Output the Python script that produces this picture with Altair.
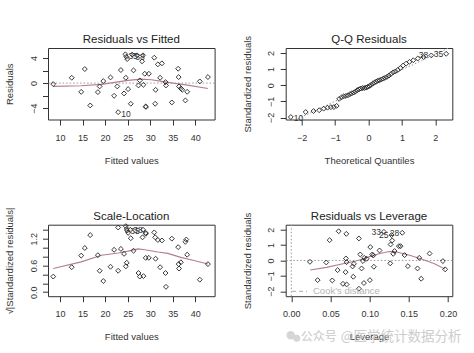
import altair as alt
import pandas as pd

# ---------------- data ----------------
# Panel 1: Residuals vs Fitted
rvf_fitted = [8.5, 12.6, 14.7, 15.5, 16.7, 18.4, 18.8, 19.6, 21.2, 22.0,
              22.9, 22.7, 23.5, 24.2, 24.6, 24.5, 24.7, 24.9, 25.1, 25.7,
              26.0, 26.3, 27.1, 27.4, 27.7, 28.2, 28.4, 28.5, 28.8, 29.0,
              29.05, 29.7, 30.9, 31.1, 31.2, 31.7, 32.2, 32.6, 33.4, 33.5,
              34.8, 36.2, 36.3, 36.4, 36.8, 37.1, 37.8, 38.2, 41.0, 42.8]
rvf_resid = [-0.16, 0.85, -1.40, 2.24, -3.57, -1.44, -0.53, 0.32, 0.90, -2.03,
             -4.64, -0.53, 2.08, -1.65, 0.85, 4.59, 4.21, 3.84, -0.96, -3.30,
             4.55, 2.03, 4.43, -0.37, 0.43, 3.47, 4.43, -0.27, 1.49, -3.73,
             -3.80, 1.49, 4.05, -3.30, -1.07, 2.99, 0.85, 3.15, 0.16, -0.37,
             -3.09, 2.29, 0.96, -0.53, -0.85, -1.07, -2.77, -1.39, 0.27, 0.96]
rvf_smooth_x = [8.5, 14.7, 19.2, 22.1, 25.1, 28.0, 30.3, 32.5, 35.4, 38.3, 42.8]
rvf_smooth_y = [-0.53, -0.43, -0.21, 0.11, 0.43, 0.64, 0.53, 0.27, -0.05, -0.32, -0.85]
rvf_lab_x = [22.9, 24.5, 26.0]
rvf_lab_y = [-4.64, 4.59, 4.55]
rvf_lab_t = ["10", "35", "38"]

# Panel 2: Q-Q Residuals
qq_theo = [-2.326, -1.881, -1.645, -1.476, -1.341, -1.227, -1.126, -1.036, -0.954, -0.878,
           -0.806, -0.739, -0.674, -0.613, -0.553, -0.496, -0.440, -0.385, -0.332, -0.279,
           -0.228, -0.176, -0.126, -0.075, -0.025, 0.025, 0.075, 0.126, 0.176, 0.228,
           0.279, 0.332, 0.385, 0.440, 0.496, 0.553, 0.613, 0.674, 0.739, 0.806,
           0.878, 0.954, 1.036, 1.126, 1.227, 1.341, 1.476, 1.645, 1.881, 2.326]
qq_sample = [-1.97, -1.66, -1.60, -1.55, -1.45, -1.39, -1.36, -1.35, -1.28, -0.85,
             -0.75, -0.68, -0.66, -0.62, -0.55, -0.50, -0.45, -0.38, -0.30, -0.25,
             -0.20, -0.18, -0.17, -0.15, -0.10, -0.05, 0.02, 0.10, 0.16, 0.22,
             0.28, 0.31, 0.36, 0.41, 0.46, 0.52, 0.60, 0.70, 0.80, 0.86,
             0.95, 1.07, 1.22, 1.34, 1.45, 1.55, 1.66, 1.75, 1.85, 1.95]
qq_ref_x = [-2.5, 2.5]
qq_ref_y = [-2.45, 2.41]
qq_lab_left_x = [-2.326]
qq_lab_left_y = [-1.97]
qq_lab_left_t = ["10"]
qq_lab_right_x = [1.881, 2.326]
qq_lab_right_y = [1.85, 1.95]
qq_lab_right_t = ["38", "35"]

# Panel 3: Scale-Location
sl_fitted = [8.5, 12.6, 14.7, 15.5, 16.7, 18.4, 18.8, 19.6, 21.2, 22.0,
             22.9, 22.9, 23.5, 24.2, 24.6, 24.8, 24.6, 24.8, 24.9, 25.1,
             25.6, 25.7, 26.3, 27.4, 27.7, 28.3, 28.4, 28.5, 29.0, 29.05,
             29.0, 29.7, 30.9, 31.1, 31.2, 31.7, 32.2, 32.6, 33.4, 33.5,
             34.8, 36.2, 36.3, 36.4, 36.8, 37.8, 38.0, 38.2, 41.0, 42.8]
sl_value = [0.35, 0.56, 0.82, 0.99, 1.28, 0.83, 0.48, 0.25, 0.57, 0.95,
            1.45, 0.48, 0.97, 0.86, 0.58, 0.66, 1.48, 1.42, 1.38, 1.33,
            1.40, 1.21, 0.93, 0.43, 0.35, 1.23, 1.40, 0.36, 1.33, 1.31,
            0.77, 0.77, 1.34, 1.23, 0.75, 1.17, 0.56, 1.16, 0.43, 0.12,
            1.20, 1.01, 0.63, 0.53, 0.67, 1.13, 1.18, 0.84, 0.28, 0.63]
sl_smooth_x = [8.5, 14.7, 19.2, 22.9, 25.1, 27.3, 28.8, 31.7, 33.9, 36.8, 39.7, 42.8]
sl_smooth_y = [0.53, 0.68, 0.83, 0.88, 0.92, 0.97, 0.95, 0.90, 0.87, 0.78, 0.71, 0.63]
sl_lab_x = [24.9, 25.6]
sl_lab_y = [1.38, 1.40]
sl_lab_t = ["35", "38"]

# Panel 4: Residuals vs Leverage
lev_h = [0.0238, 0.0336, 0.0446, 0.0489, 0.0523, 0.0591, 0.0604, 0.0659, 0.0693, 0.0702,
         0.0697, 0.0706, 0.0706, 0.0782, 0.0799, 0.0791, 0.0863, 0.0863, 0.0880, 0.0897,
         0.0914, 0.0927, 0.0931, 0.0961, 0.1003, 0.1008, 0.1033, 0.1046, 0.1054, 0.1126,
         0.1182, 0.1280, 0.1267, 0.1263, 0.1288, 0.1301, 0.1318, 0.1373, 0.1395, 0.1416,
         0.1446, 0.1488, 0.1611, 0.1633, 0.1658, 0.1765, 0.1935, 0.1964]
lev_s = [-0.09, -1.28, -0.13, 1.32, -1.30, -0.63, 1.90, -1.52, -0.76, 1.73,
         0.13, -0.11, -1.56, -0.39, -0.22, -1.06, 1.43, -1.84, 0.39, -0.52,
         -0.04, -1.47, 0.17, 0.11, -1.28, 0.87, 0.39, 0.32, -0.41, 0.65,
         1.86, 1.65, 1.04, -0.19, 1.30, 0.43, 0.61, 0.93, 0.93, 1.80,
         0.35, -0.37, -0.52, 0.17, -1.19, 0.45, -0.04, -0.58]
lev_smooth_x = [0.024, 0.045, 0.066, 0.085, 0.100, 0.113, 0.125, 0.133, 0.150, 0.167, 0.182, 0.196]
lev_smooth_y = [-0.62, -0.45, -0.22, 0.00, 0.25, 0.45, 0.58, 0.56, 0.36, 0.08, -0.20, -0.55]
lev_lab_x = [0.1182, 0.1280, 0.1416]
lev_lab_y = [1.86, 1.65, 1.80]
lev_lab_t = ["33", "25", "28"]
cook_text = "Cook's distance"
watermark_a = "公众号"
watermark_b = "@医学统计数据分析"

panel_titles = ["Residuals vs Fitted", "Q-Q Residuals", "Scale-Location", "Residuals vs Leverage"]

# ---------------- styling ----------------
FONT = "Liberation Sans"
CJK = "Noto Sans CJK SC"
TEXT = "#333333"
PT = "#222222"
SMOOTH = "#b47f8c"
REF = "#9a9a9a"
PW, PH = 166.6, 71.5


def xenc(dom, ticks, title, fmt=None):
    kw = dict(values=ticks, title=title, labelAngle=0, labelAlign="center",
              labelBaseline="top", labelPadding=8, tickSize=5.5,
              titleY=40.5, titleBaseline="middle", labelFlush=False,
              labelOverlap=False, domain=False, grid=False)
    if fmt:
        kw["format"] = fmt
    return alt.X("x:Q", scale=alt.Scale(domain=dom, nice=False, zero=False),
                 axis=alt.Axis(**kw))


def yenc(dom, ticks, shown, title, fmt=None):
    cond = " || ".join(f"abs(datum.value - ({v})) < 1e-6" for v in shown)
    kw = dict(values=ticks, title=title, labelAngle=270, labelAlign="center",
              labelBaseline="bottom", labelPadding=4.5, tickSize=5.5,
              titleX=-38.5, titleY=PH / 2, titleAngle=270, titleAlign="center",
              titleBaseline="middle", labelFlush=False, labelOverlap=False,
              domain=False, grid=False,
              labelExpr=f"({cond}) ? datum.label : ''")
    if fmt:
        kw["format"] = fmt
    return alt.Y("y:Q", scale=alt.Scale(domain=dom, nice=False, zero=False),
                 axis=alt.Axis(**kw))


one = pd.DataFrame({"a": [0]})


def title_mark(t):
    return alt.Chart(one).mark_text(align="center", baseline="alphabetic", font=FONT,
                                    fontSize=11.5, color="#222222").encode(
        x=alt.value(PW / 2), y=alt.value(-4.6), text=alt.value(t))


def points(df, X, Y):
    return alt.Chart(df).mark_point(shape="diamond", filled=False, size=24,
                                    color=PT, strokeWidth=0.9, opacity=1).encode(x=X, y=Y)


def smooth(df, X, Y):
    return alt.Chart(df).mark_line(color=SMOOTH, strokeWidth=1.1).encode(x=X, y=Y)


def labels(df, X, Y, side, dy=0):
    if side == "right":
        m = alt.Chart(df).mark_text(align="left", dx=3, dy=dy, baseline="middle",
                                    font=FONT, fontSize=8.5, color=TEXT)
    else:
        m = alt.Chart(df).mark_text(align="right", dx=-3, dy=dy, baseline="middle",
                                    font=FONT, fontSize=8.5, color=TEXT)
    return m.encode(x=X, y=Y, text="t:N")


# ---------- Panel 1 ----------
X1 = xenc([7.34, 44.28], [10, 15, 20, 25, 30, 35, 40], "Fitted values")
Y1 = yenc([-5.81, 5.6], [-4, -2, 0, 2, 4], [-4, 0, 4], "Residuals")
p1 = alt.layer(
    alt.Chart(pd.DataFrame({"y": [0]})).mark_rule(color=REF, strokeDash=[1.5, 2], strokeWidth=1).encode(y=Y1),
    smooth(pd.DataFrame({"x": rvf_smooth_x, "y": rvf_smooth_y}), X1, Y1),
    points(pd.DataFrame({"x": rvf_fitted, "y": rvf_resid}), X1, Y1),
    labels(pd.DataFrame({"x": rvf_lab_x, "y": rvf_lab_y, "t": rvf_lab_t}), X1, Y1, "right", dy=2),
    title_mark(panel_titles[0]),
    alt.Chart(one).mark_rule(color="white", strokeWidth=1).encode(
        x=alt.value(-46.2), y=alt.value(-46.2), y2=alt.value(-42)),
).properties(width=PW, height=PH)

# ---------- Panel 2 ----------
X2 = xenc([-2.479, 2.509], [-2, -1, 0, 1, 2], "Theoretical Quantiles")
Y2 = yenc([-2.124, 2.31], [-2, -1, 0, 1, 2], [-2, -1, 0, 1, 2], "Standardized residuals")
p2 = alt.layer(
    alt.Chart(pd.DataFrame({"x": qq_ref_x, "y": qq_ref_y})).mark_line(
        color=REF, strokeDash=[1.5, 2], strokeWidth=1, clip=True).encode(x=X2, y=Y2),
    points(pd.DataFrame({"x": qq_theo, "y": qq_sample}), X2, Y2),
    labels(pd.DataFrame({"x": qq_lab_left_x, "y": qq_lab_left_y, "t": qq_lab_left_t}), X2, Y2, "right", dy=1),
    labels(pd.DataFrame({"x": qq_lab_right_x, "y": qq_lab_right_y, "t": qq_lab_right_t}), X2, Y2, "left"),
    title_mark(panel_titles[1]),
).properties(width=PW, height=PH)

# ---------- Panel 3 ----------
X3 = xenc([7.34, 44.28], [10, 15, 20, 25, 30, 35, 40], "Fitted values")
Y3 = yenc([-0.09, 1.513], [0.0, 0.2, 0.4, 0.6, 0.8, 1.0, 1.2, 1.4], [0.0, 0.6, 1.2],
          "√|Standardized residuals|", fmt=".1f")
p3 = alt.layer(
    smooth(pd.DataFrame({"x": sl_smooth_x, "y": sl_smooth_y}), X3, Y3),
    points(pd.DataFrame({"x": sl_fitted, "y": sl_value}), X3, Y3),
    labels(pd.DataFrame({"x": sl_lab_x, "y": sl_lab_y, "t": sl_lab_t}), X3, Y3, "right"),
    title_mark(panel_titles[2]),
).properties(width=PW, height=PH)

# ---------- Panel 4 ----------
X4 = xenc([-0.00715, 0.2055], [0.0, 0.05, 0.10, 0.15, 0.20], "Leverage", fmt=".2f")
Y4 = yenc([-2.325, 2.325], [-2, -1, 0, 1, 2], [-2, -1, 0, 1, 2], "Standardized residuals")
p4 = alt.layer(
    alt.Chart(pd.DataFrame({"y": [0]})).mark_rule(color=REF, strokeDash=[1.5, 2], strokeWidth=1).encode(y=Y4),
    alt.Chart(pd.DataFrame({"x": [0]})).mark_rule(color=REF, strokeDash=[1.5, 2], strokeWidth=1).encode(x=X4),
    smooth(pd.DataFrame({"x": lev_smooth_x, "y": lev_smooth_y}), X4, Y4),
    points(pd.DataFrame({"x": lev_h, "y": lev_s}), X4, Y4),
    labels(pd.DataFrame({"x": lev_lab_x, "y": lev_lab_y, "t": lev_lab_t}), X4, Y4, "left"),
    title_mark(panel_titles[3]),
    alt.Chart(one).mark_rule(color="#a8a8a8", strokeDash=[4, 3], strokeWidth=1).encode(
        x=alt.value(6.3), x2=alt.value(21.3), y=alt.value(66.6)),
    alt.Chart(one).mark_text(align="left", baseline="middle", font=FONT, fontSize=9.5,
                             color="#b4b4b4").encode(
        x=alt.value(27.3), y=alt.value(66.6), text=alt.value(cook_text)),
    alt.Chart(one).mark_point(shape="circle", filled=True, size=70, color="#d2d2d2", opacity=0.9).encode(
        x=alt.value(5), y=alt.value(110.5)),
    alt.Chart(one).mark_point(shape="circle", filled=True, size=50, color="#d2d2d2", opacity=0.9).encode(
        x=alt.value(11), y=alt.value(113.5)),
    alt.Chart(one).mark_text(align="left", baseline="middle", font=CJK, fontSize=12,
                             color="#c4c4c4", opacity=0.9).encode(
        x=alt.value(15), y=alt.value(112.6), text=alt.value(watermark_a)),
    alt.Chart(one).mark_text(align="left", baseline="middle", font=CJK, fontSize=13.5,
                             color="#c4c4c4", opacity=0.85).encode(
        x=alt.value(55), y=alt.value(112.6), text=alt.value(watermark_b)),
).properties(width=PW, height=PH)

chart = alt.concat(
    p1, p2, p3, p4, columns=2,
    spacing={"row": 104.7, "column": 70.7}, bounds="flush",
).properties(
    padding={"left": 0, "top": 0, "right": 0, "bottom": 0},
    background="white",
).configure_view(
    stroke="#333333", strokeWidth=1
).configure_axis(
    labelFont=FONT, labelFontSize=9, labelColor=TEXT,
    titleFont=FONT, titleFontSize=9.5, titleFontWeight="normal", titleColor=TEXT,
    tickColor="#333333", tickWidth=1,
)

chart.save("out.html", embed_options={"renderer": "svg", "actions": False})
